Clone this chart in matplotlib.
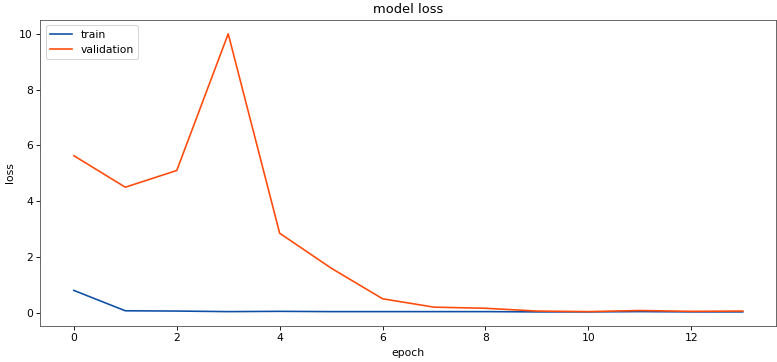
import matplotlib
matplotlib.use("Agg")
import matplotlib.pyplot as plt

epochs = list(range(14))
train_loss = [0.80, 0.07, 0.06, 0.04, 0.05, 0.04, 0.04, 0.04, 0.04, 0.03, 0.03, 0.04, 0.03, 0.03]
val_loss = [5.63, 4.50, 5.10, 10.00, 2.85, 1.60, 0.50, 0.20, 0.16, 0.06, 0.04, 0.08, 0.05, 0.06]

DPI = 77.7
fig = plt.figure(figsize=(777 / DPI, 362 / DPI), dpi=DPI)
ax = fig.add_axes([0.052, 0.100, 0.947, 0.845])
ax.plot(epochs, train_loss, color='#0d4ea6', label='train', linewidth=1.5)
ax.plot(epochs, val_loss, color='#ff4a0a', label='validation', linewidth=1.5)
ax.set_title('model loss')
ax.set_xlabel('epoch')
ax.set_ylabel('loss')
for s in ax.spines.values():
    s.set_color('#555555')
ax.legend(loc='upper left')
fig.savefig('out.png', dpi=DPI)
